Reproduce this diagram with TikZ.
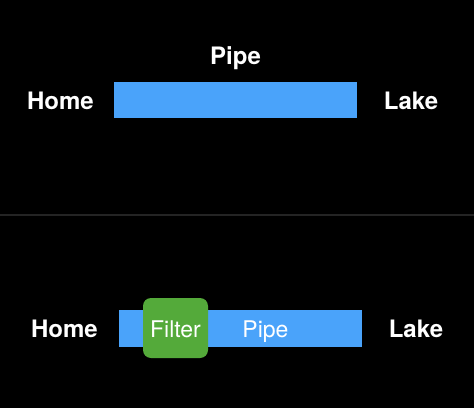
\documentclass[tikz,border=0pt]{standalone}
\usepackage{fontspec}
\setmainfont{TeX Gyre Heros}
\usetikzlibrary{positioning}
\definecolor{pipeblue}{RGB}{74,163,250}
\definecolor{filtergreen}{RGB}{84,170,58}
\definecolor{rulegray}{RGB}{36,36,36}
\tikzset{pipe/.style={fill=pipeblue, minimum width=243pt, minimum height=36pt, inner sep=0pt},
         filter/.style={fill=filtergreen, rounded corners=8pt, minimum width=65pt, minimum height=60pt, inner sep=0pt},
         lbl/.style={text=white, font=\fontsize{24}{28}\selectfont\bfseries, anchor=base, inner sep=0pt},
         txt/.style={text=white, font=\fontsize{23}{27}\selectfont, anchor=base, inner sep=0pt},
        }

\begin{document}
\begin{tikzpicture}[x=1pt,y=1pt]
        \fill[black](0,0)rectangle(474,408);
        \useasboundingbox(0,0)rectangle(474,408);

        \node[pipe](pipeA)at(235.5,308){};
        \node[lbl](pipeAlbl)at(235.5,343){Pipe};
        \node[lbl](homeA)at(60.5,299){Home};
        \node[lbl](lakeA)at(411,299){Lake};

        \coordinate(sepL)at(0,193);
        \coordinate(sepR)at(474,193);
        \draw[rulegray, line width=1.5pt](sepL)--(sepR);

        \node[pipe, minimum height=37pt](pipeB)at(240.5,79.5){};
        \node[filter](filterB)at(175.5,80){};
        \node[txt](filterBlbl)at(175.5,71){Filter};
        \node[txt](pipeBlbl)at(265.5,71){Pipe};
        \node[lbl](homeB)at(64.5,71){Home};
        \node[lbl](lakeB)at(416,71){Lake};
    \end{tikzpicture}
\end{document}
